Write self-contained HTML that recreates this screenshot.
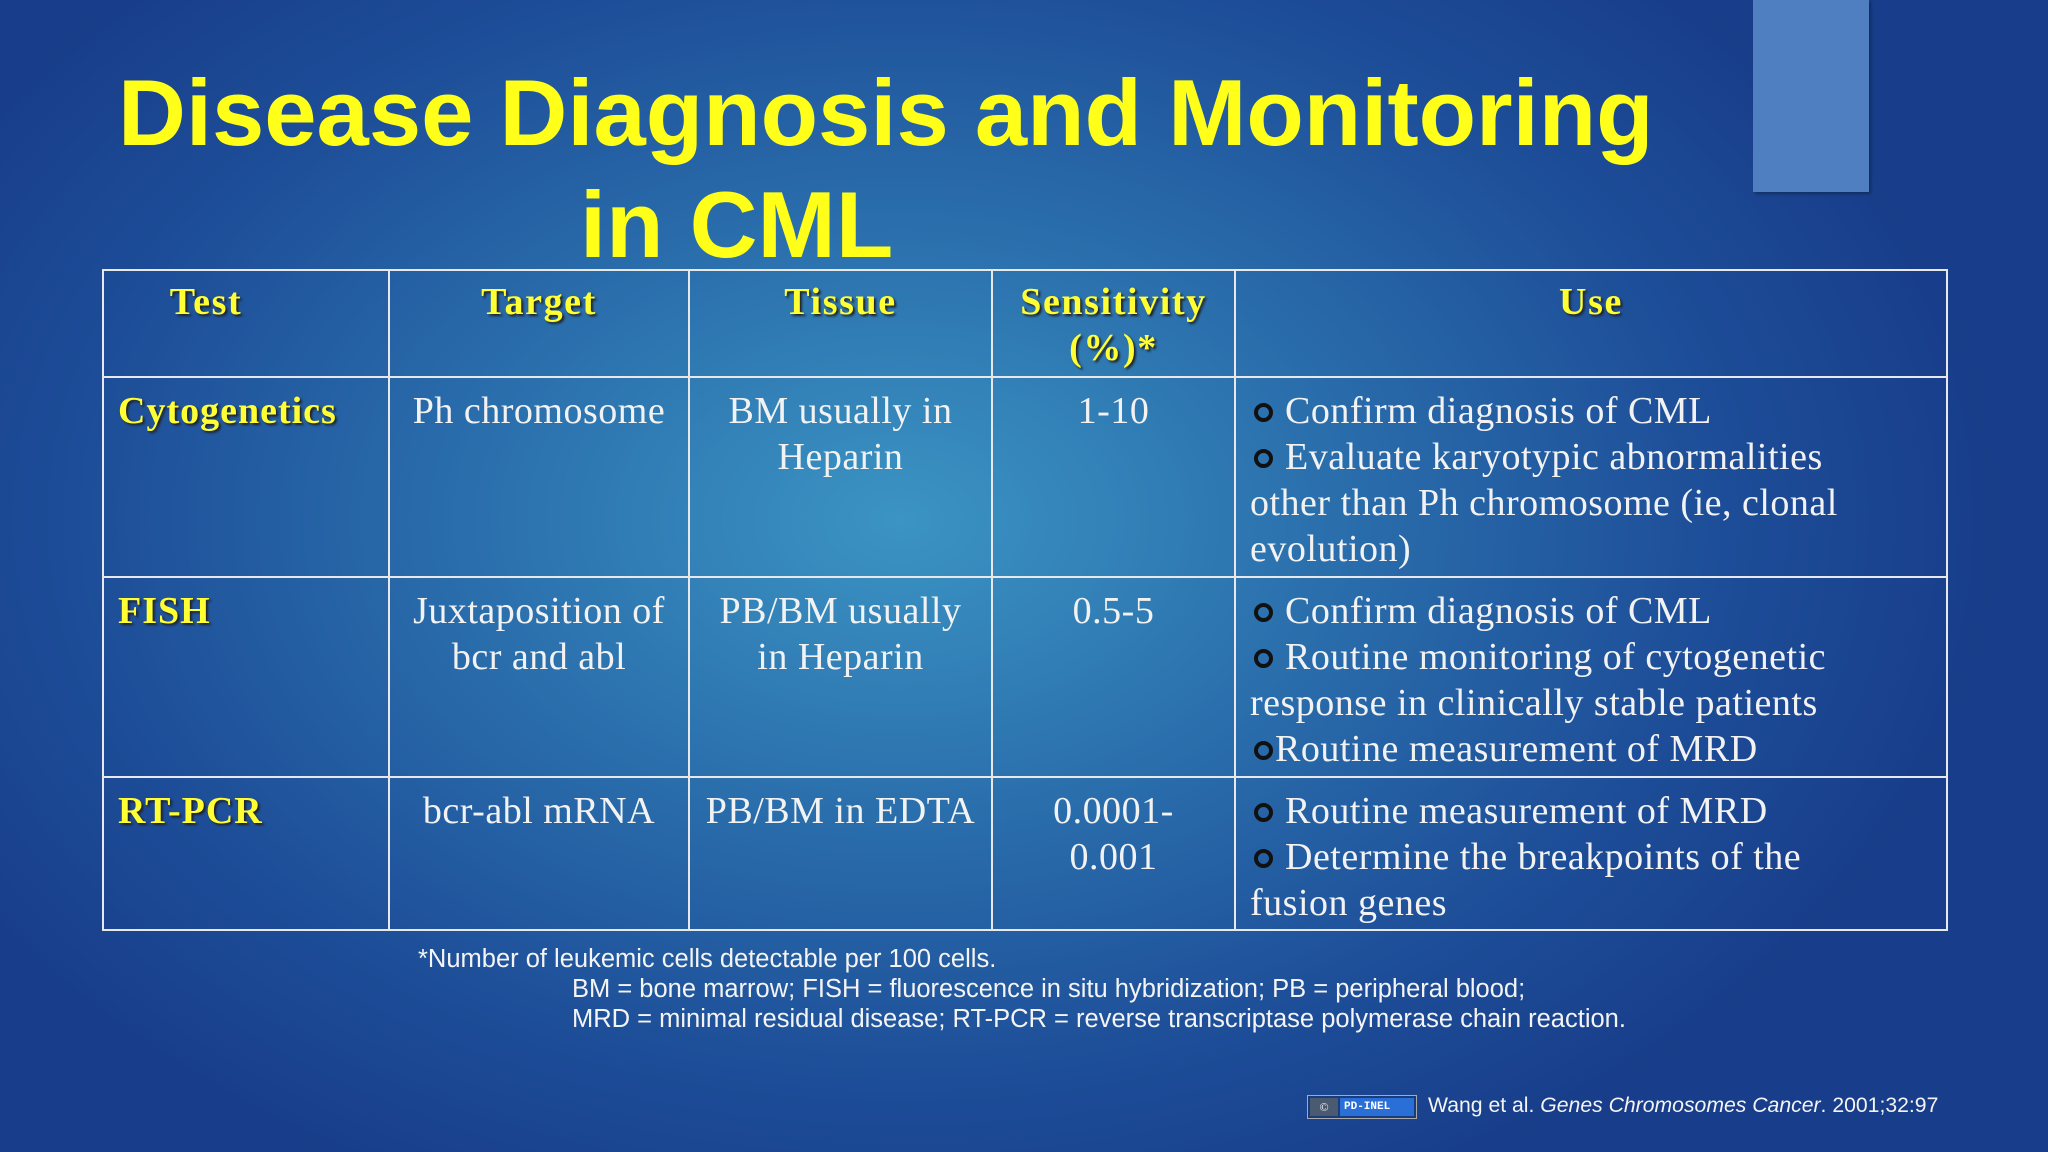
<!DOCTYPE html>
<html><head><meta charset="utf-8"><style>
html,body{margin:0;padding:0}
body{width:2048px;height:1152px;overflow:hidden;position:relative;
background:radial-gradient(ellipse 1100px 750px at 900px 520px,#3b94c3 0%,#2a6eac 40%,#1d4d98 75%,#183d8a 100%);
font-family:"Liberation Serif",serif;color:#f2f2f2}
.abs{position:absolute}
.title{font-family:"Liberation Sans",sans-serif;font-weight:bold;color:#ffff1a;font-size:94px;line-height:110px;white-space:nowrap}
.tbl{position:absolute;left:102px;top:269px;width:1842px;height:658px;border:2px solid #e8e8e8}
.vl{position:absolute;top:0;width:2px;height:100%;background:#e8e8e8}
.hl{position:absolute;left:0;height:2px;width:100%;background:#e8e8e8}
.cell{position:absolute;font-size:38px;letter-spacing:0.5px;line-height:46px;text-align:center;white-space:nowrap}
.hd{color:#ffff33;font-weight:bold;letter-spacing:1.6px;text-shadow:2px 2px 2px #222}
.rh{color:#ffff33;font-weight:bold;text-align:left;letter-spacing:1px;text-shadow:2px 2px 2px #222}
.use{text-align:left}
.b{display:inline-block;width:11px;height:11px;border:4px solid #111;border-radius:50%;margin:0 12px 4px 4px;vertical-align:middle}
.fn{font-family:"Liberation Sans",sans-serif;font-size:25.5px;white-space:nowrap;color:#f4f4f4}
</style></head><body>
<div class="abs" style="left:1753px;top:0;width:116px;height:192px;background:#4f7fc0;box-shadow:2px 2px 3px rgba(0,0,0,.3)"></div>
<div class="abs title" style="left:118px;top:58px">Disease Diagnosis and Monitoring</div>
<div class="abs title" style="left:580px;top:170px">in CML</div>

<div class="tbl">
<div class="vl" style="left:284px"></div><div class="vl" style="left:584px"></div><div class="vl" style="left:887px"></div><div class="vl" style="left:1130px"></div>
<div class="hl" style="top:105px"></div><div class="hl" style="top:305px"></div><div class="hl" style="top:505px"></div>

<div class="cell hd" style="left:0;width:204px;top:8px">Test</div>
<div class="cell hd" style="left:286px;width:298px;top:8px">Target</div>
<div class="cell hd" style="left:586px;width:301px;top:8px">Tissue</div>
<div class="cell hd" style="left:889px;width:241px;top:8px">Sensitivity<br>(%)*</div>
<div class="cell hd" style="left:1132px;width:710px;top:8px">Use</div>

<div class="cell rh" style="left:14px;top:117px">Cytogenetics</div>
<div class="cell" style="left:286px;width:298px;top:117px">Ph chromosome</div>
<div class="cell" style="left:586px;width:301px;top:117px">BM usually in<br>Heparin</div>
<div class="cell" style="left:889px;width:241px;top:117px">1-10</div>
<div class="cell use" style="left:1146px;width:690px;top:117px"><span class="b"></span>Confirm diagnosis of CML<br><span class="b"></span>Evaluate karyotypic abnormalities<br>other than Ph chromosome (ie, clonal<br>evolution)</div>

<div class="cell rh" style="left:14px;top:317px">FISH</div>
<div class="cell" style="left:286px;width:298px;top:317px">Juxtaposition of<br>bcr and abl</div>
<div class="cell" style="left:586px;width:301px;top:317px">PB/BM usually<br>in Heparin</div>
<div class="cell" style="left:889px;width:241px;top:317px">0.5-5</div>
<div class="cell use" style="left:1146px;width:690px;top:317px"><span class="b"></span>Confirm diagnosis of CML<br><span class="b"></span>Routine monitoring of cytogenetic<br>response in clinically stable patients<br><span class="b" style="margin-right:2px"></span>Routine measurement of MRD</div>

<div class="cell rh" style="left:14px;top:517px">RT-PCR</div>
<div class="cell" style="left:286px;width:298px;top:517px">bcr-abl mRNA</div>
<div class="cell" style="left:586px;width:301px;top:517px">PB/BM in EDTA</div>
<div class="cell" style="left:889px;width:241px;top:517px">0.0001-<br>0.001</div>
<div class="cell use" style="left:1146px;width:690px;top:517px"><span class="b"></span>Routine measurement of MRD<br><span class="b"></span>Determine the breakpoints of the<br>fusion genes</div>
</div>

<div class="abs fn" style="left:418px;top:945px">*Number of leukemic cells detectable per 100 cells.</div>
<div class="abs fn" style="left:572px;top:975px">BM = bone marrow; FISH = fluorescence in situ hybridization; PB = peripheral blood;</div>
<div class="abs fn" style="left:572px;top:1005px">MRD = minimal residual disease; RT-PCR = reverse transcriptase polymerase chain reaction.</div>

<div class="abs" style="left:1307px;top:1095px;width:108px;height:22px;border:1px solid #aaa;background:#1a3c7a">
<div style="position:absolute;left:2px;top:2px;width:28px;height:18px;background:#4a5a70;color:#fff;font-size:12px;text-align:center;line-height:18px">©</div>
<div style="position:absolute;left:32px;top:2px;width:74px;height:18px;background:#2a6fd8;color:#fff;font:bold 11px 'Liberation Mono',monospace;line-height:18px;padding-left:4px;box-sizing:border-box">PD-INEL</div></div>
<div class="abs fn" style="left:1428px;top:1094px;font-size:21.2px">Wang et al. <i>Genes Chromosomes Cancer</i>. 2001;32:97</div>
</body></html>
